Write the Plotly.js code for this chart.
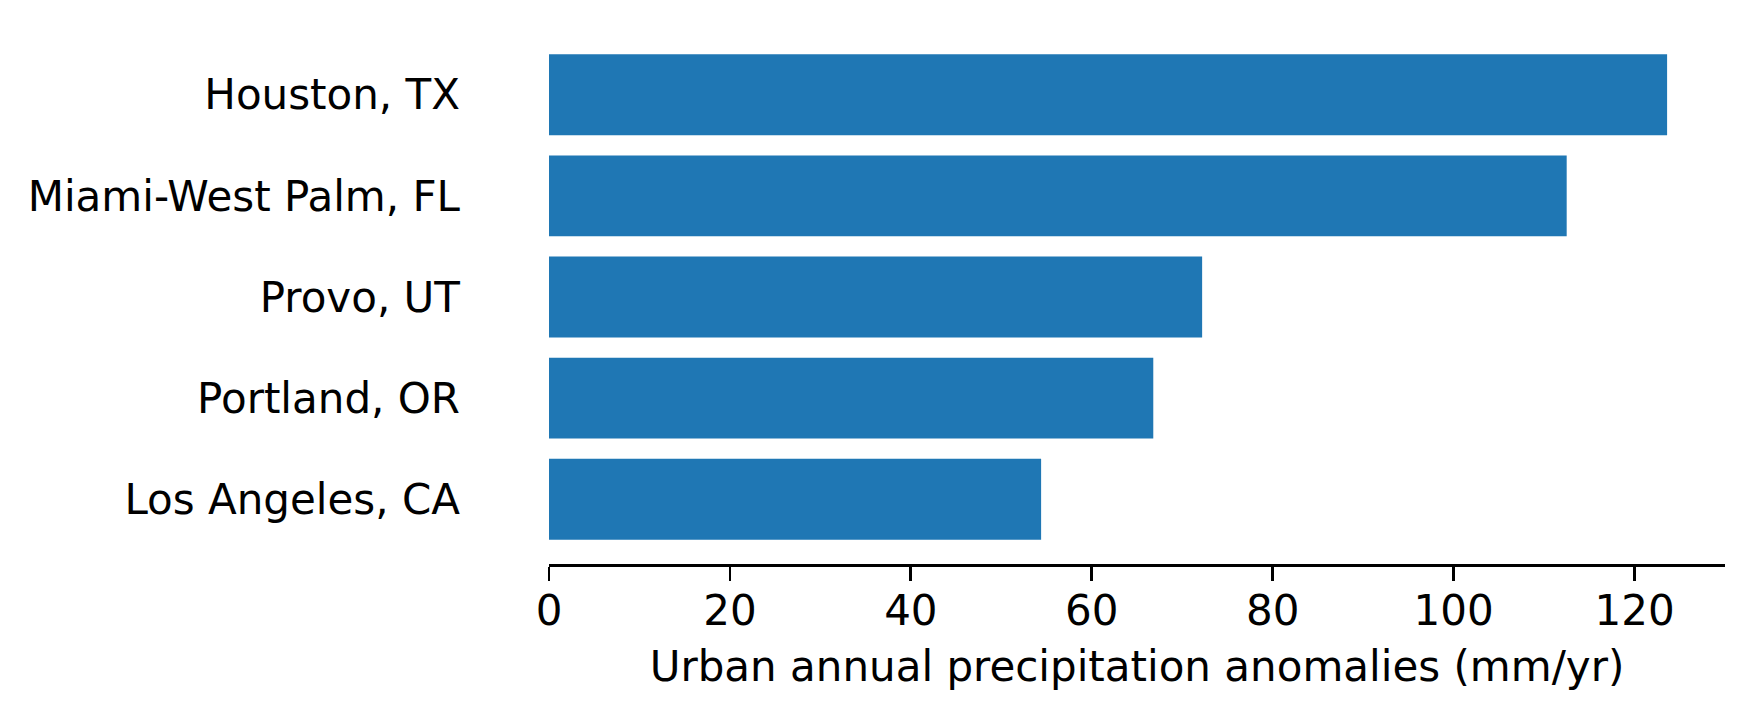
<!DOCTYPE html>
<html>
<head>
<meta charset="utf-8">
<script src="https://cdn.plot.ly/plotly-3.0.1.min.js"></script>
<style>html,body{margin:0;padding:0;background:#fff;}#chart{width:1752px;height:720px;}</style>
</head>
<body>
<div id="chart"></div>
<script>
// Data (bottom to top order as drawn)
const cities = ["Los Angeles, CA", "Portland, OR", "Provo, UT", "Miami-West Palm, FL", "Houston, TX"];
const anomalies = [54.4, 66.8, 72.2, 112.5, 123.6];
const xTickValues = [0, 20, 40, 60, 80, 100, 120];
const xTitle = "Urban annual precipitation anomalies (mm/yr)";

const font = "DejaVu Sans, sans-serif";

const trace = {
  type: "bar",
  orientation: "h",
  y: cities,
  x: anomalies,
  width: 0.8,
  marker: {color: "#1f77b4", line: {width: 0}},
  hoverinfo: "skip"
};

const layout = {
  width: 1752,
  height: 720,
  margin: {l: 549, r: 27, t: 30, b: 156},
  paper_bgcolor: "#ffffff",
  plot_bgcolor: "#ffffff",
  showlegend: false,
  font: {family: font, color: "#000000", size: 42},
  xaxis: {
    range: [0, 130],
    tickvals: xTickValues,
    ticktext: xTickValues.map(String),
    showgrid: false,
    zeroline: false,
    showline: true,
    linecolor: "#000000",
    linewidth: 2.7,
    ticks: "outside",
    ticklen: 14,
    tickwidth: 2.7,
    tickcolor: "#000000",
    ticklabelstandoff: -6,
    tickfont: {family: font, size: 42, color: "#000000"},
    title: {text: xTitle, font: {family: font, size: 42, color: "#000000"}, standoff: 18}
  },
  yaxis: {
    type: "category",
    categoryorder: "array",
    categoryarray: cities,
    range: [-0.64, 4.64],
    showgrid: false,
    zeroline: false,
    showline: false,
    ticks: "",
    ticklabelstandoff: 88,
    tickfont: {family: font, size: 42, color: "#000000"}
  }
};

Plotly.newPlot("chart", [trace], layout, {staticPlot: true, displayModeBar: false});
</script>
</body>
</html>
